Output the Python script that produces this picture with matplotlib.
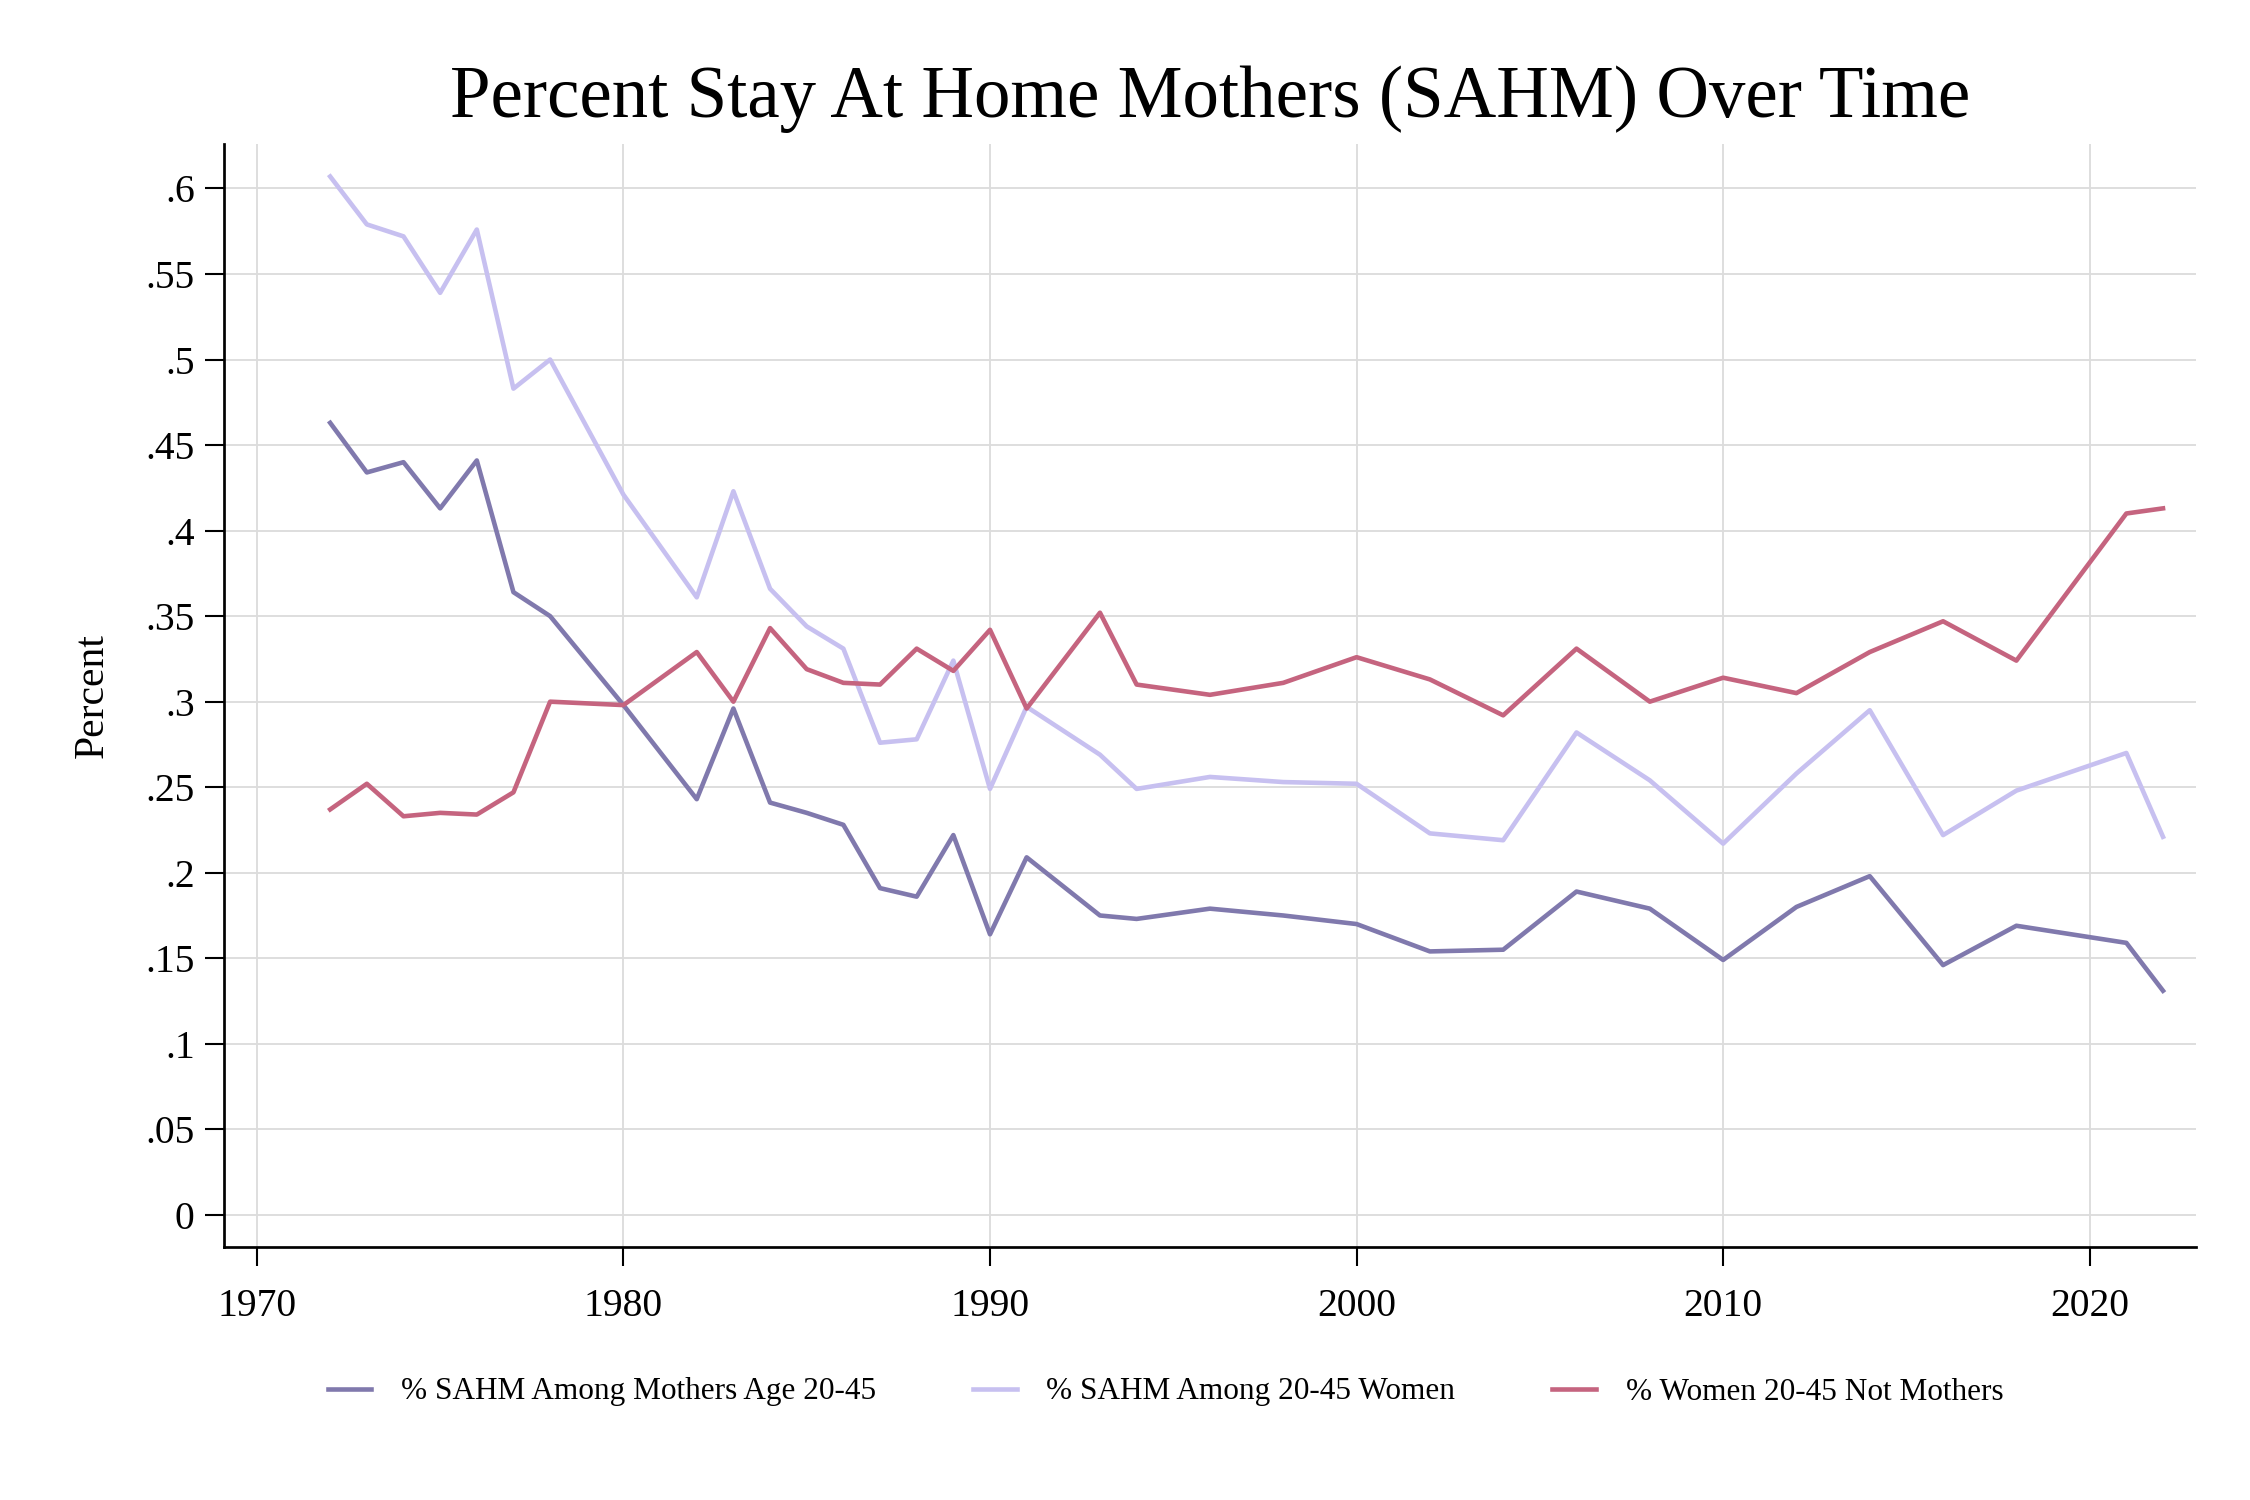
import matplotlib.pyplot as plt
import numpy as np

years = [1972, 1973, 1974, 1975, 1976, 1977, 1978, 1980, 1982, 1983, 1984, 1985,
         1986, 1987, 1988, 1989, 1990, 1991, 1993, 1994, 1996, 1998, 2000, 2002,
         2004, 2006, 2008, 2010, 2012, 2014, 2016, 2018, 2021, 2022]

sahm_mothers = [0.463, 0.434, 0.440, 0.413, 0.441, 0.364, 0.350, 0.298, 0.243, 0.296,
                0.241, 0.235, 0.228, 0.191, 0.186, 0.222, 0.164, 0.209, 0.175, 0.173,
                0.179, 0.175, 0.170, 0.154, 0.155, 0.189, 0.179, 0.149, 0.180, 0.198,
                0.146, 0.169, 0.159, 0.131]

sahm_women = [0.607, 0.579, 0.572, 0.539, 0.576, 0.483, 0.500, 0.421, 0.361, 0.423,
              0.366, 0.344, 0.331, 0.276, 0.278, 0.324, 0.249, 0.297, 0.269, 0.249,
              0.256, 0.253, 0.252, 0.223, 0.219, 0.282, 0.254, 0.217, 0.258, 0.295,
              0.222, 0.248, 0.270, 0.221]

not_mothers = [0.237, 0.252, 0.233, 0.235, 0.234, 0.247, 0.300, 0.298, 0.329, 0.300,
               0.343, 0.319, 0.311, 0.310, 0.331, 0.318, 0.342, 0.296, 0.352, 0.310,
               0.304, 0.311, 0.326, 0.313, 0.292, 0.331, 0.300, 0.314, 0.305, 0.329,
               0.347, 0.324, 0.410, 0.413]

labels = ["% SAHM Among Mothers Age 20-45", "% SAHM Among 20-45 Women",
          "% Women 20-45 Not Mothers"]
colors = ["#8079ad", "#c7c0f0", "#c5647f"]

yticks = [0, 0.05, 0.1, 0.15, 0.2, 0.25, 0.3, 0.35, 0.4, 0.45, 0.5, 0.55, 0.6]
ytick_labels = ["0", ".05", ".1", ".15", ".2", ".25", ".3", ".35", ".4", ".45",
                ".5", ".55", ".6"]
xticks = [1970, 1980, 1990, 2000, 2010, 2020]

plt.rcParams['font.family'] = ['Liberation Serif', 'DejaVu Serif']

fig = plt.figure(figsize=(15, 10), dpi=150)
ax = fig.add_axes([0.0995, 0.169, 0.8765, 0.735])

for series, lab, col in zip([sahm_mothers, sahm_women, not_mothers], labels, colors):
    ax.plot(years, series, color=col, linewidth=2.2, label=lab)

ax.set_xlim(1969.1, 2022.9)
ax.set_ylim(-0.0185, 0.626)
ax.set_yticks(yticks)
ax.set_yticklabels(ytick_labels)
ax.set_xticks(xticks)
ax.tick_params(axis='both', labelsize=19, length=9, width=1.0, direction='out')
ax.tick_params(axis='x', pad=11)
ax.tick_params(axis='y', pad=5)

ax.grid(True, color='#dcdcdc', linewidth=0.9)
ax.set_axisbelow(True)
for s in ['top', 'right']:
    ax.spines[s].set_visible(False)
for s in ['left', 'bottom']:
    ax.spines[s].set_linewidth(1.3)

ax.set_ylabel('Percent', fontsize=20, labelpad=16)
fig.text(0.538, 0.934, 'Percent Stay At Home Mothers (SAHM) Over Time', fontsize=35,
         ha='center', va='center')

fig.legend(loc='center', bbox_to_anchor=(0.518, 0.072), ncol=3, frameon=False,
           fontsize=15, handlelength=1.4, handletextpad=0.95, columnspacing=3.1)

fig.savefig('out.png', dpi=150)
